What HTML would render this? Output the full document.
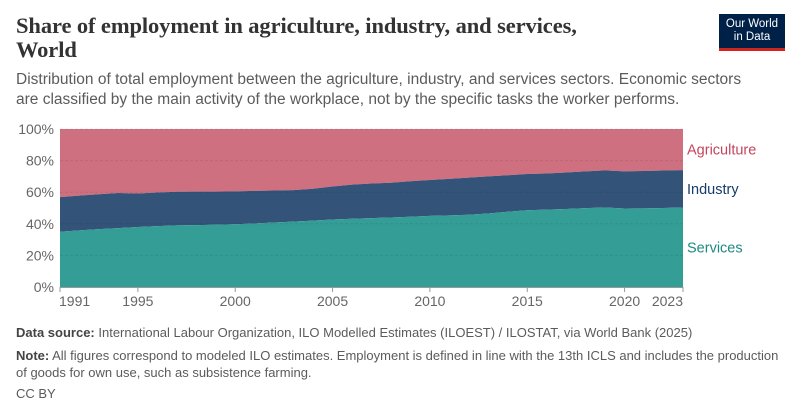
<!DOCTYPE html>
<html><head><meta charset="utf-8"><style>
body{margin:0;background:#fff;font-family:"Liberation Sans",sans-serif;}
#root{position:relative;width:800px;height:418px;overflow:hidden;}
.t{position:absolute;margin:0;}
</style></head><body>
<div id="root">
<h1 class="t" style="left:16px;top:14px;font-family:'Liberation Serif',serif;font-size:22.5px;font-weight:bold;line-height:24px;color:#333;width:600px;letter-spacing:-0.1px">Share of employment in agriculture, industry, and services, World</h1>
<div class="t" style="left:719px;top:14px;width:66px;height:37px;background:#002147;color:#fff;font-size:11.5px;line-height:13px;text-align:center;padding-top:4px;box-sizing:border-box">Our World<br>in Data<div style="position:absolute;left:0;bottom:0;width:66px;height:3px;background:#ce261e"></div></div>
<p class="t" style="left:16px;top:70px;font-size:15.5px;line-height:20px;color:#5b5b5b;width:784px;white-space:nowrap">Distribution of total employment between the agriculture, industry, and services sectors. Economic sectors<br>are classified by the main activity of the workplace, not by the specific tasks the worker performs.</p>
<svg class="t" style="left:0;top:0" width="800" height="418" id="svg"></svg>
<p class="t" style="left:16px;top:325px;font-size:13px;color:#5b5b5b"><b style="color:#444">Data source:</b> International Labour Organization, ILO Modelled Estimates (ILOEST) / ILOSTAT, via World Bank (2025)</p>
<p class="t" style="left:16px;top:347px;font-size:13px;line-height:17px;color:#5b5b5b;width:770px"><b style="color:#444">Note:</b> All figures correspond to modeled ILO estimates. Employment is defined in line with the 13th ICLS and includes the production of goods for own use, such as subsistence farming.</p>
<p class="t" style="left:16px;top:386px;font-size:13px;color:#5b5b5b">CC BY</p>
</div>
<script>
const years=[1991,1992,1993,1994,1995,1996,1997,1998,1999,2000,2001,2002,2003,2004,2005,2006,2007,2008,2009,2010,2011,2012,2013,2014,2015,2016,2017,2018,2019,2020,2021,2022,2023];
const services=[35,35.8,36.6,37.3,38,38.5,39,39.2,39.4,39.7,40.2,40.8,41.4,42,42.7,43.2,43.6,44,44.5,45,45.3,45.7,46.5,47.6,48.6,49,49.4,49.9,50.3,49.7,49.8,50,50.3];
const industry=[21.9,22,22.1,22.2,21.2,21.3,21.3,21.2,21,20.8,20.6,20.3,19.9,20.2,20.9,21.6,21.9,22,22.4,22.7,23.1,23.5,23.5,23.1,22.9,22.8,23.1,23.3,23.5,23.5,23.6,23.7,23.7];
const yTicks=[0,20,40,60,80,100];
const xTicks=[1991,1995,2000,2005,2010,2015,2020,2023];
const labels=["Agriculture","Industry","Services"];
const NS="http://www.w3.org/2000/svg",svg=document.getElementById('svg');
const X0=60,X1=683,Y0=287,Y1=129;
const x=v=>X0+(v-years[0])/(years[years.length-1]-years[0])*(X1-X0);
const y=v=>Y0-v/100*(Y0-Y1);
function mk(t,a){const e=document.createElementNS(NS,t);for(const k in a)e.setAttribute(k,a[k]);svg.appendChild(e);return e;}
const top1=services, top2=services.map((s,i)=>s+industry[i]), top3=services.map(()=>100);
function area(lo,hi,col,name){let d='M'+years.map((yr,i)=>x(yr)+','+y(hi[i])).join('L');
for(let i=years.length-1;i>=0;i--)d+='L'+x(years[i])+','+y(lo?lo[i]:0);
const p=mk('path',{d:d+'Z',fill:col});

}
area(top2,top3,'#cf7080','area-agriculture');
area(top1,top2,'#335379','area-industry');
area(null,top1,'#339d96','area-services');
yTicks.forEach(v=>{
if(v>0){const l=mk('line',{x1:X0,x2:X1,y1:y(v),y2:y(v),stroke:'#000','stroke-opacity':0.08,'stroke-dasharray':'3,2'});

}
const t=mk('text',{x:54,y:y(v)+5,'text-anchor':'end','font-size':14,fill:'#666'});t.textContent=v+'%';

});
const ax=mk('line',{x1:X0,x2:X1,y1:Y0+0.5,y2:Y0+0.5,stroke:'#999'});


xTicks.forEach((v,i)=>{const tk=mk('line',{x1:x(v),x2:x(v),y1:Y0,y2:Y0+5,stroke:'#999'});


const anc=i==0?'start':(i==xTicks.length-1?'end':'middle');
const t=mk('text',{x:x(v)+(i==0?-1:0),y:306,'text-anchor':anc,'font-size':14,fill:'#666'});t.textContent=v;

});
const n=years.length-1;
const mids=[(top2[n]+100)/2,(top1[n]+top2[n])/2,top1[n]/2];
const cols=['#c4455c','#183b6b','#1f8a83'];
labels.forEach((s,i)=>{const t=mk('text',{x:687,y:y(mids[i])+5,'font-size':14.5,fill:cols[i]});t.textContent=s;

});
</script>
</body></html>
